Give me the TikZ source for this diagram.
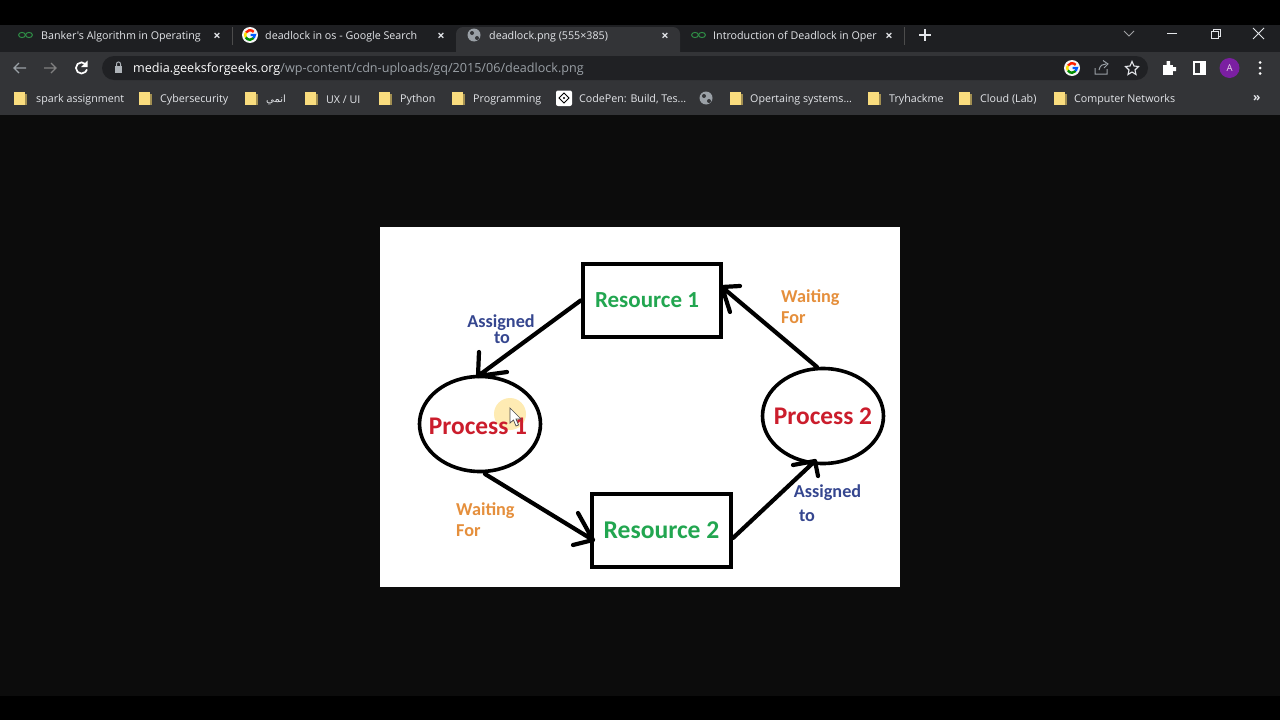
\documentclass[tikz,border=0pt]{standalone}
\usepackage{fontspec}
\setmainfont{Carlito}
\newfontfamily\uifont{Open Sans}
\newfontfamily\arabicfont[Script=Arabic]{DejaVu Sans}
\TeXXeTstate=1
\usetikzlibrary{shapes.geometric}
\definecolor{pagebg}{HTML}{0C0C0C}
\definecolor{tabbar}{HTML}{1E1F22}
\definecolor{toolbar}{HTML}{333437}
\definecolor{urlbar}{HTML}{202124}
\definecolor{uitext}{HTML}{E4E6EA}
\definecolor{urlgrey}{HTML}{9AA0A6}
\definecolor{folder}{HTML}{F9DC7E}
\definecolor{gfg}{HTML}{2F8D46}
\definecolor{rgreen}{HTML}{22A650}
\definecolor{pred}{HTML}{CB1D2C}
\definecolor{aorange}{HTML}{E58F3C}
\definecolor{ablue}{HTML}{35468F}
\definecolor{avatarpurple}{HTML}{7B1FA2}
\newcommand{\zerotext}[2]{\smash{\makebox[0pt]{\raisebox{#1}{#2}}}}
\tikzset{
 tabtext/.style={anchor=west,inner sep=0pt,text=uitext,font=\uifont\fontsize{10.7}{12}\selectfont},
 marktext/.style={anchor=west,inner sep=0pt,text=uitext,font=\uifont\fontsize{10.7}{12}\selectfont},
 xmark/.style={inner sep=0pt,text=uitext,font=\uifont\bfseries\fontsize{13}{13}\selectfont},
 folderbox/.style={fill=folder,draw=none},
 boxnode/.style={draw=black,line width=4.2pt,minimum width=138.5pt,minimum height=73pt,inner sep=0pt,text=rgreen,font=\bfseries\fontsize{23}{26}\selectfont},
 ellnode/.style={ellipse,draw=black,line width=3.6pt,minimum width=121pt,minimum height=95pt,inner sep=0pt,text=pred,font=\bfseries\fontsize{25.4}{28}\selectfont},
 link/.style={draw=black,line width=4.2pt,line cap=round,line join=round},
 bluetext/.style={inner sep=0pt,text=ablue,font=\bfseries\fontsize{18.2}{19}\selectfont},
 orangetext/.style={inner sep=0pt,anchor=west,text=aorange,font=\bfseries\fontsize{18.2}{19}\selectfont},
 gicon/.pic={
  \fill[white!92!gray] (0,0) circle (8pt);
  \draw[line width=2.4pt,color=red!75!orange] (40:4.8pt) arc (40:150:4.8pt);
  \draw[line width=2.4pt,color=yellow!85!orange] (150:4.8pt) arc (150:210:4.8pt);
  \draw[line width=2.4pt,color=green!55!black] (210:4.8pt) arc (210:320:4.8pt);
  \draw[line width=2.4pt,color=blue!65!cyan] (320:4.8pt) arc (320:360:4.8pt) -- (0.5pt,0pt);
 },
}
\begin{document}
\begin{tikzpicture}[x=1pt,y=-1pt]
\useasboundingbox (0,0) rectangle (1280,720);
% screen
\fill[pagebg] (0,0) rectangle (1280,720);
\fill[black] (0,0) rectangle (1280,25);
\fill[black] (0,696) rectangle (1280,720);
\fill[tabbar] (0,25) rectangle (1280,52);
\fill[toolbar,rounded corners=7pt] (456,27) rectangle (680,60);
\fill[toolbar] (0,52) rectangle (1280,115);
\fill[urlbar,rounded corners=12pt] (102,56) rectangle (1148,80);
\draw[gray!60!black,line width=.8pt] (232,27) -- (232,45) (904,27) -- (904,45);
% tabs
\foreach \cx in {22,695}{
 \draw[gfg,line width=1pt] (\cx,35) ellipse (3.4pt and 2.6pt);
 \draw[gfg,line width=1pt] (\cx+7,35) ellipse (3.4pt and 2.6pt);
}
\node[tabtext] (t1) at (41,36.5) {Banker's Algorithm in Operating};
\node[xmark] (x1) at (217,36.5) {×};
\node[tabtext] (t2) at (265,36.5) {deadlock in os - Google Search};
\node[xmark] (x2) at (441,36.5) {×};
\node[tabtext] (t3) at (489,36.5) {deadlock.png (555×385)};
\node[xmark] (x3) at (665,36.5) {×};
\node[tabtext] (t4) at (713,36.5) {Introduction of Deadlock in Oper};
\node[xmark] (x4) at (889,36.5) {×};
\pic at (250,35) {gicon};
\fill[urlgrey] (474,35) circle (6.5pt);
\fill[toolbar] (472,33) circle (2pt) (477,38) circle (2pt);
\draw[uitext,line width=1.6pt] (919,35) -- (931,35) (925,29) -- (925,41);
% window controls
\draw[uitext!70!black,line width=1pt] (1124,31) -- (1129,36) -- (1134,31);
\draw[uitext,line width=1pt] (1167,33.5) -- (1177,33.5);
\draw[uitext,line width=1pt] (1211,31) rectangle (1218,38) (1213,31) -- (1213,29) -- (1220,29) -- (1220,36) -- (1218,36);
\draw[uitext,line width=1pt] (1253,28) -- (1264,39) (1264,28) -- (1253,39);
% toolbar
\draw[urlgrey,line width=1.4pt] (14,68) -- (26,68) (19,63) -- (14,68) -- (19,73);
\draw[gray,line width=1.4pt] (44,68) -- (56,68) (51,63) -- (56,68) -- (51,73);
\draw[white,line width=1.7pt] (85.5,64) arc (45:345:5.6pt);
\fill[white] (87.5,60.5) -- (87.5,67) -- (81,67) -- cycle;
\fill[urlgrey!80!white] (115,66) rectangle (122,73);
\draw[urlgrey!80!white,line width=1pt] (116.5,66) -- (116.5,64) arc (180:0:2pt) -- (120.5,66);
\node[anchor=west,inner sep=0pt,font=\uifont\fontsize{12.6}{14}\selectfont,text=urlgrey] (url) at (133,69) {\textcolor{white}{media.geeksforgeeks.org}/wp-content/cdn-uploads/gq/2015/06/deadlock.png};
\pic at (1072,68) {gicon};
\draw[urlgrey,line width=1pt] (1095,68) -- (1095,74) -- (1107,74) -- (1107,69) (1099,70) .. controls (1100,65) and (1103,64) .. (1106,64) (1103,60.5) -- (1108,64) -- (1104,68);
\draw[uitext,line width=1.1pt] (1132,61.5) -- (1134,66) -- (1138.5,66.5) -- (1135,70) -- (1136,74.5) -- (1132,72) -- (1128,74.5) -- (1129,70) -- (1125.5,66.5) -- (1130,66) -- cycle;
\fill[white] (1163,65) rectangle (1173,75);
\fill[white] (1166.5,61) rectangle (1170,66) (1172,67) rectangle (1176,71);
\draw[white,line width=1.6pt] (1194,62) rectangle (1205,74);
\fill[white] (1200,62) rectangle (1205,74);
\node[circle,fill=avatarpurple,minimum size=20pt,inner sep=0pt,text=white!85!violet,font=\uifont\fontsize{9.5}{10}\selectfont] (avatar) at (1229.5,68) {A};
\fill[white] (1260,62.5) circle (1.5pt) (1260,68) circle (1.5pt) (1260,73.5) circle (1.5pt);
% bookmarks
\foreach \fx in {14,139,245,305,379,452,730,868,959,1054}{
 \fill[folderbox] (\fx,92) rectangle (\fx+11,105);
 \fill[folder!65!black] (\fx+11,94) rectangle (\fx+12.5,105);
}
\node[marktext] (b1) at (36,99.5) {spark assignment};
\node[marktext] (b2) at (160,99.5) {Cybersecurity};
\node[marktext,font=\arabicfont\fontsize{10}{12}\selectfont] (b3) at (266,99.5) {\beginR انمي\endR};
\node[marktext] (b4) at (326,99.5) {UX / UI};
\node[marktext] (b5) at (400,99.5) {Python};
\node[marktext] (b6) at (473,99.5) {Programming};
\fill[white,rounded corners=2pt] (556,90.5) rectangle (572,106);
\draw[black,line width=1pt] (564,93) -- (569,98) -- (564,103) -- (559,98) -- cycle;
\fill[black] (564,98) circle (1.2pt);
\node[marktext] (b7) at (579,99.5) {CodePen: Build, Tes...};
\fill[urlgrey] (706,98) circle (6.5pt);
\fill[toolbar] (704,96) circle (2pt) (709,101) circle (2pt);
\node[marktext] (b8) at (750,99.5) {Opertaing systems...};
\node[marktext] (b9) at (889,99.5) {Tryhackme};
\node[marktext] (b10) at (980,99.5) {Cloud (Lab)};
\node[marktext] (b11) at (1074,99.5) {Computer Networks};
\node[marktext,font=\uifont\bfseries\fontsize{12}{12}\selectfont] (more) at (1253,98) {»};
% the image
\fill[white] (380,227) rectangle (900,587);
\fill[yellow!55!orange!35!white,opacity=.8] (510,414) circle (16pt);
\node[boxnode] (r1) at (652,300.5) {\hspace*{-10pt}\raisebox{-1pt}{Resource 1}};
\node[boxnode,font=\bfseries\fontsize{25.6}{28}\selectfont] (r2) at (661.5,530.5) {Resource 2};
\node[ellnode] (p1) at (480,424) {\zerotext{-10pt}{\hspace*{-4pt}Process 1}};
\node[ellnode] (p2) at (823,416) {\zerotext{-8pt}{Process 2}};
\coordinate (a1) at (478,376);
\coordinate (a1u) at (479,352);
\coordinate (a1v) at (507,372);
\coordinate (a2s) at (817,367);
\coordinate (a2) at (722,287);
\coordinate (a2u) at (740,286);
\coordinate (a2v) at (730,312);
\coordinate (a3s) at (485,474);
\coordinate (a3) at (593,540);
\coordinate (a3u) at (578,513);
\coordinate (a3v) at (573,545);
\coordinate (a4s) at (733,538);
\coordinate (a4) at (815,461);
\coordinate (a4u) at (793,465);
\coordinate (a4v) at (818,476);
\draw[link] (r1.west) -- (a1) (a1u) -- (a1) -- (a1v);
\draw[link] (a2s) -- (a2) (a2u) -- (a2) -- (a2v);
\draw[link] (a3s) -- (a3) (a3u) -- (a3) -- (a3v);
\draw[link] (a4s) -- (a4) (a4u) -- (a4) -- (a4v);
\node[bluetext] (l1) at (501,322.5) {Assigned};
\node[bluetext] (l1b) at (502,338) {to};
\node[orangetext] (l2) at (781,297.5) {Waiting};
\node[orangetext] (l2b) at (781,318) {For};
\node[orangetext] (l3) at (456,510.5) {Waiting};
\node[orangetext] (l3b) at (456,531) {For};
\node[bluetext] (l4) at (827.5,493) {Assigned};
\node[bluetext] (l4b) at (807,516) {to};
% cursor
\draw[black!70,fill=white,line width=.7pt] (510,408) -- (510,423) -- (513.5,420) -- (516,426) -- (518.5,425) -- (516,419) -- (521,419) -- cycle;
\end{tikzpicture}
\end{document}
